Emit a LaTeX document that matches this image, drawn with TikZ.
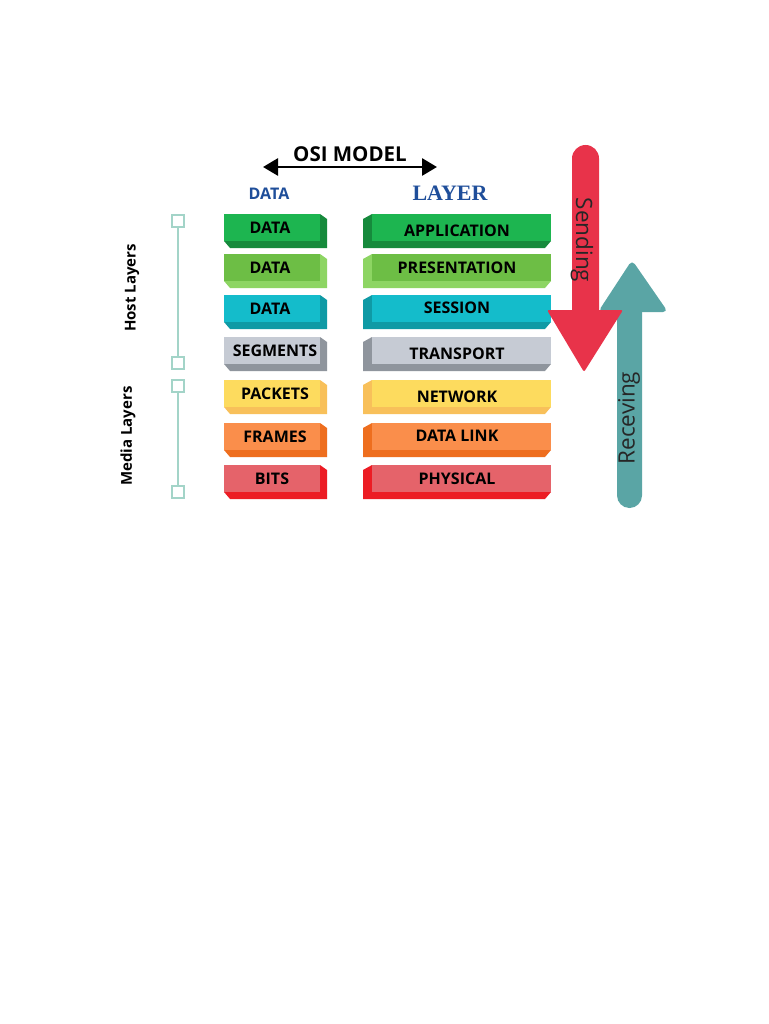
\documentclass[tikz,border=0pt]{standalone}
\usepackage{fontspec}
\setmainfont{Open Sans}
\newfontfamily\layerfont{Liberation Serif}
\usetikzlibrary{arrows.meta}

\definecolor{rowA}{HTML}{1DB550}
\definecolor{rowAb}{HTML}{168A3C}
\definecolor{rowB}{HTML}{6DBE45}
\definecolor{rowBb}{HTML}{8DD563}
\definecolor{rowC}{HTML}{14BCCB}
\definecolor{rowCb}{HTML}{0F9AA5}
\definecolor{rowD}{HTML}{C6CBD4}
\definecolor{rowDb}{HTML}{8F959D}
\definecolor{rowE}{HTML}{FDDB5E}
\definecolor{rowEb}{HTML}{F8C05A}
\definecolor{rowF}{HTML}{FA8E4B}
\definecolor{rowFb}{HTML}{EE6E1E}
\definecolor{rowG}{HTML}{E5636A}
\definecolor{rowGb}{HTML}{EC1C24}
\definecolor{headblue}{HTML}{1F4E9A}
\definecolor{brackc}{HTML}{A3D4C8}
\definecolor{sendred}{HTML}{E8334A}
\definecolor{recvteal}{HTML}{5AA5A5}

\tikzset{
  lbl/.style={font=\bfseries\fontsize{16}{16}\selectfont, text=black, inner sep=0pt},
  sidelbl/.style={font=\bfseries\fontsize{15}{15}\selectfont, inner sep=0pt, rotate=90},
  sideline/.style={draw=brackc, line width=1.8pt},
  tick/.style={draw=brackc, fill=white, line width=1.8pt, minimum size=12pt, inner sep=0pt},
  arrowlbl/.style={font=\fontsize{22.5}{22.5}\selectfont, text=black!85, inner sep=0pt}
}

\begin{document}
\begin{tikzpicture}[x=1pt, y=-1pt]
  \useasboundingbox[fill=white] (0,0) rectangle (768,1024);

  % Title and headings
  \node[font=\bfseries\fontsize{20.5}{21}\selectfont] (title) at (350,154) {OSI MODEL};
  \coordinate (modelL) at (263,167);
  \coordinate (modelR) at (437,167);
  \draw[line width=2.8pt, {Triangle[length=15pt,width=17pt]}-{Triangle[length=15pt,width=17pt]}]
    (modelL) -- (modelR);

  \node[font=\bfseries\fontsize{16}{16}\selectfont, text=headblue] (datahead) at (269,194) {DATA};
  \node[font=\layerfont\bfseries\fontsize{22}{22}\selectfont, text=headblue] (layerhead) at (450,193) {LAYER};

  % Rows of boxes
  \foreach \t/\fc/\bc/\ltxt/\lx/\rtxt/\ry [count=\i] in {
      214/rowA/rowAb/DATA/270/APPLICATION/17,
      254/rowB/rowBb/DATA/270/PRESENTATION/14,
      295/rowC/rowCb/DATA/270/SESSION/13,
      337/rowD/rowDb/SEGMENTS/275/TRANSPORT/17,
      380/rowE/rowEb/PACKETS/275/NETWORK/17,
      423/rowF/rowFb/FRAMES/275/DATA LINK/13,
      465/rowG/rowGb/BITS/272/PHYSICAL/14} {
    % data box
    \fill[\bc] (224,\t+27) -- (230,\t+34) -- (327,\t+34) -- (327,\t+5) -- (320,\t) -- cycle;
    \fill[\fc] (224,\t) rectangle (320,\t+27);
    \node[lbl] (data\i) at (\lx,\t+14) {\ltxt};
    % layer box
    \fill[\bc] (372,\t) -- (363,\t+5) -- (363,\t+34) -- (545,\t+34) -- (551,\t+27) -- cycle;
    \fill[\fc] (372,\t) rectangle (551,\t+27);
    \node[lbl] (layer\i) at (457,\t+\ry) {\rtxt};
  }

  % Host and media brackets
  \node[tick] (hosttop) at (178,221) {};
  \node[tick] (hostbot) at (178,363) {};
  \node[tick] (mediatop) at (178,386) {};
  \node[tick] (mediabot) at (178,492) {};
  \draw[sideline] (hosttop) -- (hostbot);
  \draw[sideline] (mediatop) -- (mediabot);

  \node[sidelbl] (host) at (132,288) {Host Layers};
  \node[sidelbl] (media) at (128,436) {Media Layers};

  % Receiving arrow
  \fill[recvteal, rounded corners=12.5pt] (617,290) rectangle (642,508);
  \fill[recvteal, rounded corners=5pt] (598,312) -- (632,260) -- (668,312) -- cycle;
  \node[arrowlbl, rotate=90] (recv) at (629,418) {Receving};

  % Sending arrow
  \fill[sendred, rounded corners=13.5pt] (572,145) rectangle (599,330);
  \fill[sendred, rounded corners=2pt] (547,310) -- (623,310) -- (584,372) -- cycle;
  \node[arrowlbl, rotate=-90] (send) at (582,240) {Sending};

\end{tikzpicture}
\end{document}
